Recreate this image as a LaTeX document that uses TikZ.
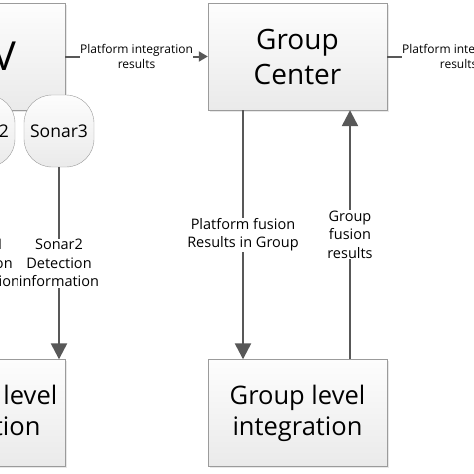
\documentclass[tikz,border=0pt]{standalone}
\usepackage{fontspec}
\setmainfont{Open Sans}
\usetikzlibrary{arrows.meta,shadows}
\definecolor{box-line}{RGB}{155,155,155}
\definecolor{box-top}{RGB}{253,253,253}
\definecolor{box-bot}{RGB}{234,234,234}
\definecolor{link-gray}{RGB}{88,88,88}
\tikzset{
	bigbox/.style={draw=box-line, top color=box-top, bottom color=box-bot, minimum width=179pt, minimum height=107pt, align=center, inner sep=0pt, drop shadow={opacity=0.18, shadow xshift=1.5pt, shadow yshift=-1.5pt}},
	sonar/.style={draw=box-line, top color=box-top, bottom color=box-bot, rounded corners=28pt, minimum width=70pt, minimum height=72pt, font=\fontsize{17.5}{20}\selectfont},
	tag/.style={fill=white, align=center, inner sep=0.5pt, font=\fontsize{14.5}{18.5}\selectfont},
	sidetag/.style={fill=white, align=center, inner sep=0.5pt, font=\fontsize{12}{15}\selectfont},
	flow/.style={draw=link-gray, line width=2.4pt, -{Triangle[length=16pt,width=16pt]}},
	thinflow/.style={draw=link-gray, line width=2pt, -{Triangle[length=9pt,width=10pt]}}
}
\begin{document}
\begin{tikzpicture}[x=1pt,y=-1pt]
\useasboundingbox (0,0) rectangle (474,474);
\clip (0,0) rectangle (474,474);

\node [bigbox, font=\fontsize{40}{48}\selectfont] (uuv) at (-24.5,56.5) {UUV};
\node [bigbox, font=\fontsize{28}{35}\selectfont] (center) at (297.5,56.5) {Group\\Center};
\node [bigbox, font=\fontsize{25.5}{31}\selectfont] (platlevel) at (-24.5,413) {Platform level\\integration};
\node [bigbox, font=\fontsize{25.5}{31}\selectfont] (grouplevel) at (297.5,413) {Group level\\integration};
\foreach \x/\name/\txt in {-20/sonarB/Sonar2, 59/sonarC/Sonar3}{
	\node [sonar] (\name) at (\x,131) {\txt};
}
\coordinate (nextbox) at (530,56.5);

\draw [thinflow] (uuv.east) -- node [sidetag] {Platform integration\\results} (center.west);
\draw [thinflow] (center.east) -- node [sidetag] {Platform integration\\results} (nextbox);
\draw [flow] (sonarB.south) -- node [tag] {Sonar1\\Detection\\information} (sonarB.south |- platlevel.north);
\draw [flow] (sonarC.south) -- node [tag] {Sonar2\\Detection\\information} (sonarC.south |- platlevel.north);
\draw [flow] ([xshift=-54.5pt]center.south) -- node [tag] {Platform fusion\\Results in Group} ([xshift=-54.5pt]grouplevel.north);
\draw [flow] ([xshift=52.5pt]grouplevel.north) -- node [tag] {Group\\fusion\\results} ([xshift=52.5pt]center.south);
\end{tikzpicture}
\end{document}
